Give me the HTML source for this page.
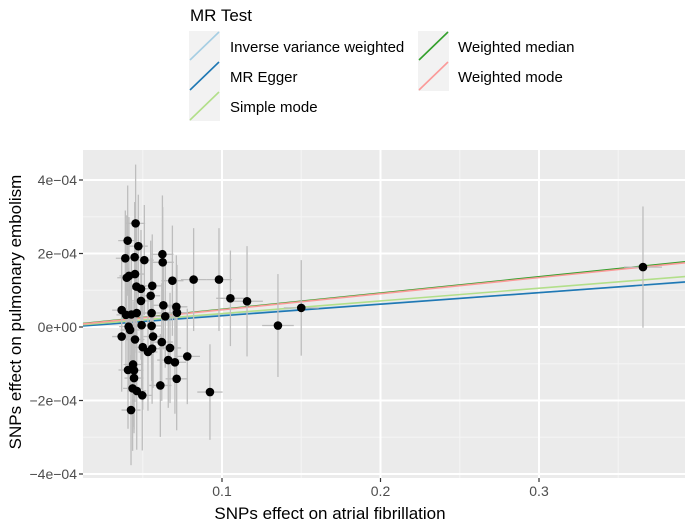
<!DOCTYPE html>
<html><head><meta charset="utf-8"><style>
body{margin:0;background:#fff;font-family:"Liberation Sans",sans-serif}
svg text{font-family:"Liberation Sans",sans-serif}
</style></head><body>
<svg id="chart" width="685" height="526" viewBox="0 0 685 526" xmlns="http://www.w3.org/2000/svg">
<g>
<text x="190" y="21" font-size="17" fill="#000">MR Test</text>
<g><rect x="189" y="31" width="31" height="30" fill="#f2f2f2"/><line x1="190" y1="60" x2="219" y2="32" stroke="#a6cee3" stroke-width="1.6"/><text x="230" y="52" font-size="15">Inverse variance weighted</text></g>
<g><rect x="189" y="61" width="31" height="30" fill="#f2f2f2"/><line x1="190" y1="90" x2="219" y2="62" stroke="#1f78b4" stroke-width="1.6"/><text x="230" y="82" font-size="15">MR Egger</text></g>
<g><rect x="189" y="91" width="31" height="30" fill="#f2f2f2"/><line x1="190" y1="120" x2="219" y2="92" stroke="#b2df8a" stroke-width="1.6"/><text x="230" y="112" font-size="15">Simple mode</text></g>
<g><rect x="418" y="31" width="31" height="30" fill="#f2f2f2"/><line x1="419" y1="60" x2="448" y2="32" stroke="#33a02c" stroke-width="1.6"/><text x="458" y="52" font-size="15">Weighted median</text></g>
<g><rect x="418" y="61" width="31" height="30" fill="#f2f2f2"/><line x1="419" y1="90" x2="448" y2="62" stroke="#fb9a99" stroke-width="1.6"/><text x="458" y="82" font-size="15">Weighted mode</text></g>
</g>
<rect x="83" y="150" width="602" height="328" fill="#ebebeb"/>
<g id="grid"></g>
<g id="lines"></g>
<g id="errs"></g>
<g id="pts"></g>
<g id="axes"></g>
<text x="330" y="519" font-size="17" text-anchor="middle" fill="#000">SNPs effect on atrial fibrillation</text>
<text transform="translate(21,312) rotate(-90)" font-size="17" text-anchor="middle" fill="#000">SNPs effect on pulmonary embolism</text>
</svg>
<script>
const xs=[0.0455,0.0405,0.0472,0.0390,0.0449,0.0510,0.0624,0.0626,0.0399,0.0413,0.0451,0.0560,0.0687,0.0821,0.0981,0.0460,0.0489,0.0550,0.1053,0.1158,0.0489,0.0630,0.0367,0.0394,0.0428,0.0462,0.0556,0.0642,0.0712,0.0716,0.0411,0.0493,0.0556,0.1353,0.0367,0.0420,0.0451,0.0565,0.0620,0.0500,0.0533,0.0559,0.0672,0.0661,0.0703,0.0781,0.0407,0.0439,0.0445,0.0445,0.0611,0.0714,0.0436,0.0462,0.0497,0.0924,0.0426,0.150,0.3656];
const ys=[2.82,2.35,2.20,1.87,1.90,1.82,1.98,1.76,1.34,1.39,1.44,1.12,1.26,1.29,1.29,1.10,1.04,0.85,0.78,0.70,0.71,0.59,0.46,0.33,0.34,0.38,0.38,0.29,0.55,0.39,0.01,0.05,0.03,0.04,-0.26,-0.08,-0.34,-0.26,-0.41,-0.55,-0.68,-0.59,-0.57,-0.90,-0.96,-0.80,-1.17,-1.02,-1.18,-1.39,-1.59,-1.41,-1.67,-1.74,-1.86,-1.77,-2.26,0.52,1.63];
const yse=[1.6,1.5,1.4,1.3,1.5,1.5,1.6,1.5,1.7,1.6,1.7,1.4,1.5,1.4,1.4,1.8,1.6,1.5,1.3,1.5,1.6,1.2,1.4,1.5,1.6,1.7,1.5,1.4,1.4,1.3,1.6,1.7,1.5,1.4,1.5,1.6,1.7,1.4,1.6,1.7,1.6,1.5,1.5,1.3,1.4,1.3,1.6,1.7,1.6,1.5,1.4,1.4,1.7,1.6,1.5,1.3,1.5,1.3,1.65];
const xse=[0.006,0.006,0.006,0.006,0.006,0.006,0.007,0.007,0.006,0.006,0.006,0.006,0.007,0.008,0.008,0.006,0.006,0.006,0.009,0.010,0.006,0.007,0.006,0.006,0.006,0.006,0.006,0.007,0.007,0.007,0.006,0.006,0.006,0.010,0.006,0.006,0.006,0.006,0.007,0.006,0.006,0.006,0.007,0.007,0.007,0.008,0.006,0.006,0.006,0.006,0.007,0.007,0.006,0.006,0.006,0.008,0.006,0.011,0.012];
const methods=["Inverse variance weighted","MR Egger","Simple mode","Weighted median","Weighted mode"];
const slopes=[3.05,3.15,3.45,4.42,4.38];
const intercepts=[0.02,-0.01,0.02,0.04,0.03];
const colors=["#a6cee3","#1f78b4","#b2df8a","#33a02c","#fb9a99"];
const xTicks=[0.1,0.2,0.3], xTickLabels=["0.1","0.2","0.3"];
const yTicks=[4,2,0,-2,-4], yTickLabels=["4e\u221204","2e\u221204","0e+00","\u22122e\u221204","\u22124e\u221204"];
const xMinor=[0.05,0.15,0.25,0.35], yMinor=[3,1,-1,-3];
const X0=83,X1=685,Y0=150,Y1=478;
const sx=v=>63.5+v*1585;
const sy=v=>327-v*36.75;
const ns="http://www.w3.org/2000/svg";
function mk(p,t,a){const e=document.createElementNS(ns,t);for(const k in a)e.setAttribute(k,a[k]);p.appendChild(e);return e;}
const grid=document.getElementById('grid'),lines=document.getElementById('lines'),errs=document.getElementById('errs'),pts=document.getElementById('pts'),axes=document.getElementById('axes');
xMinor.forEach(v=>{const e=mk(grid,'line',{x1:sx(v),x2:sx(v),y1:Y0,y2:Y1,stroke:'#f5f5f5','stroke-width':1});

});
yMinor.forEach(v=>{const e=mk(grid,'line',{x1:X0,x2:X1,y1:sy(v),y2:sy(v),stroke:'#f5f5f5','stroke-width':1});

});
xTicks.forEach((v,i)=>{const e=mk(grid,'line',{x1:sx(v),x2:sx(v),y1:Y0,y2:Y1,stroke:'#fff','stroke-width':2});


const t=mk(axes,'line',{x1:sx(v),x2:sx(v),y1:Y1,y2:Y1+4,stroke:'#333','stroke-width':1.2});


const l=mk(axes,'text',{x:sx(v),y:Y1+18,'font-size':14,'text-anchor':'middle',fill:'#4d4d4d'});l.textContent=xTickLabels[i];

});
yTicks.forEach((v,i)=>{const e=mk(grid,'line',{x1:X0,x2:X1,y1:sy(v),y2:sy(v),stroke:'#fff','stroke-width':2});


const t=mk(axes,'line',{x1:X0-4,x2:X0,y1:sy(v),y2:sy(v),stroke:'#333','stroke-width':1.2});


const l=mk(axes,'text',{x:X0-6,y:sy(v)+5,'font-size':14,'text-anchor':'end',fill:'#4d4d4d'});l.textContent=yTickLabels[i];

});
xs.forEach((x,i)=>{const e=mk(errs,'line',{x1:sx(x),x2:sx(x),y1:sy(ys[i]+yse[i]),y2:sy(ys[i]-yse[i]),stroke:'#bdbdbd','stroke-width':1.3});


const h=mk(errs,'line',{x1:sx(x-xse[i]),x2:sx(x+xse[i]),y1:sy(ys[i]),y2:sy(ys[i]),stroke:'#bdbdbd','stroke-width':1.3});

});
methods.forEach((m,i)=>{const xa=(X0-63.5)/1585,xb=(X1-63.5)/1585;
const e=mk(lines,'line',{x1:X0,x2:X1,y1:sy(intercepts[i]+slopes[i]*xa),y2:sy(intercepts[i]+slopes[i]*xb),stroke:colors[i],'stroke-width':1.6});

});
xs.forEach((x,i)=>{const c=mk(pts,'circle',{cx:sx(x),cy:sy(ys[i]),r:4.3,fill:'#000'});

});
</script>
</body></html>
